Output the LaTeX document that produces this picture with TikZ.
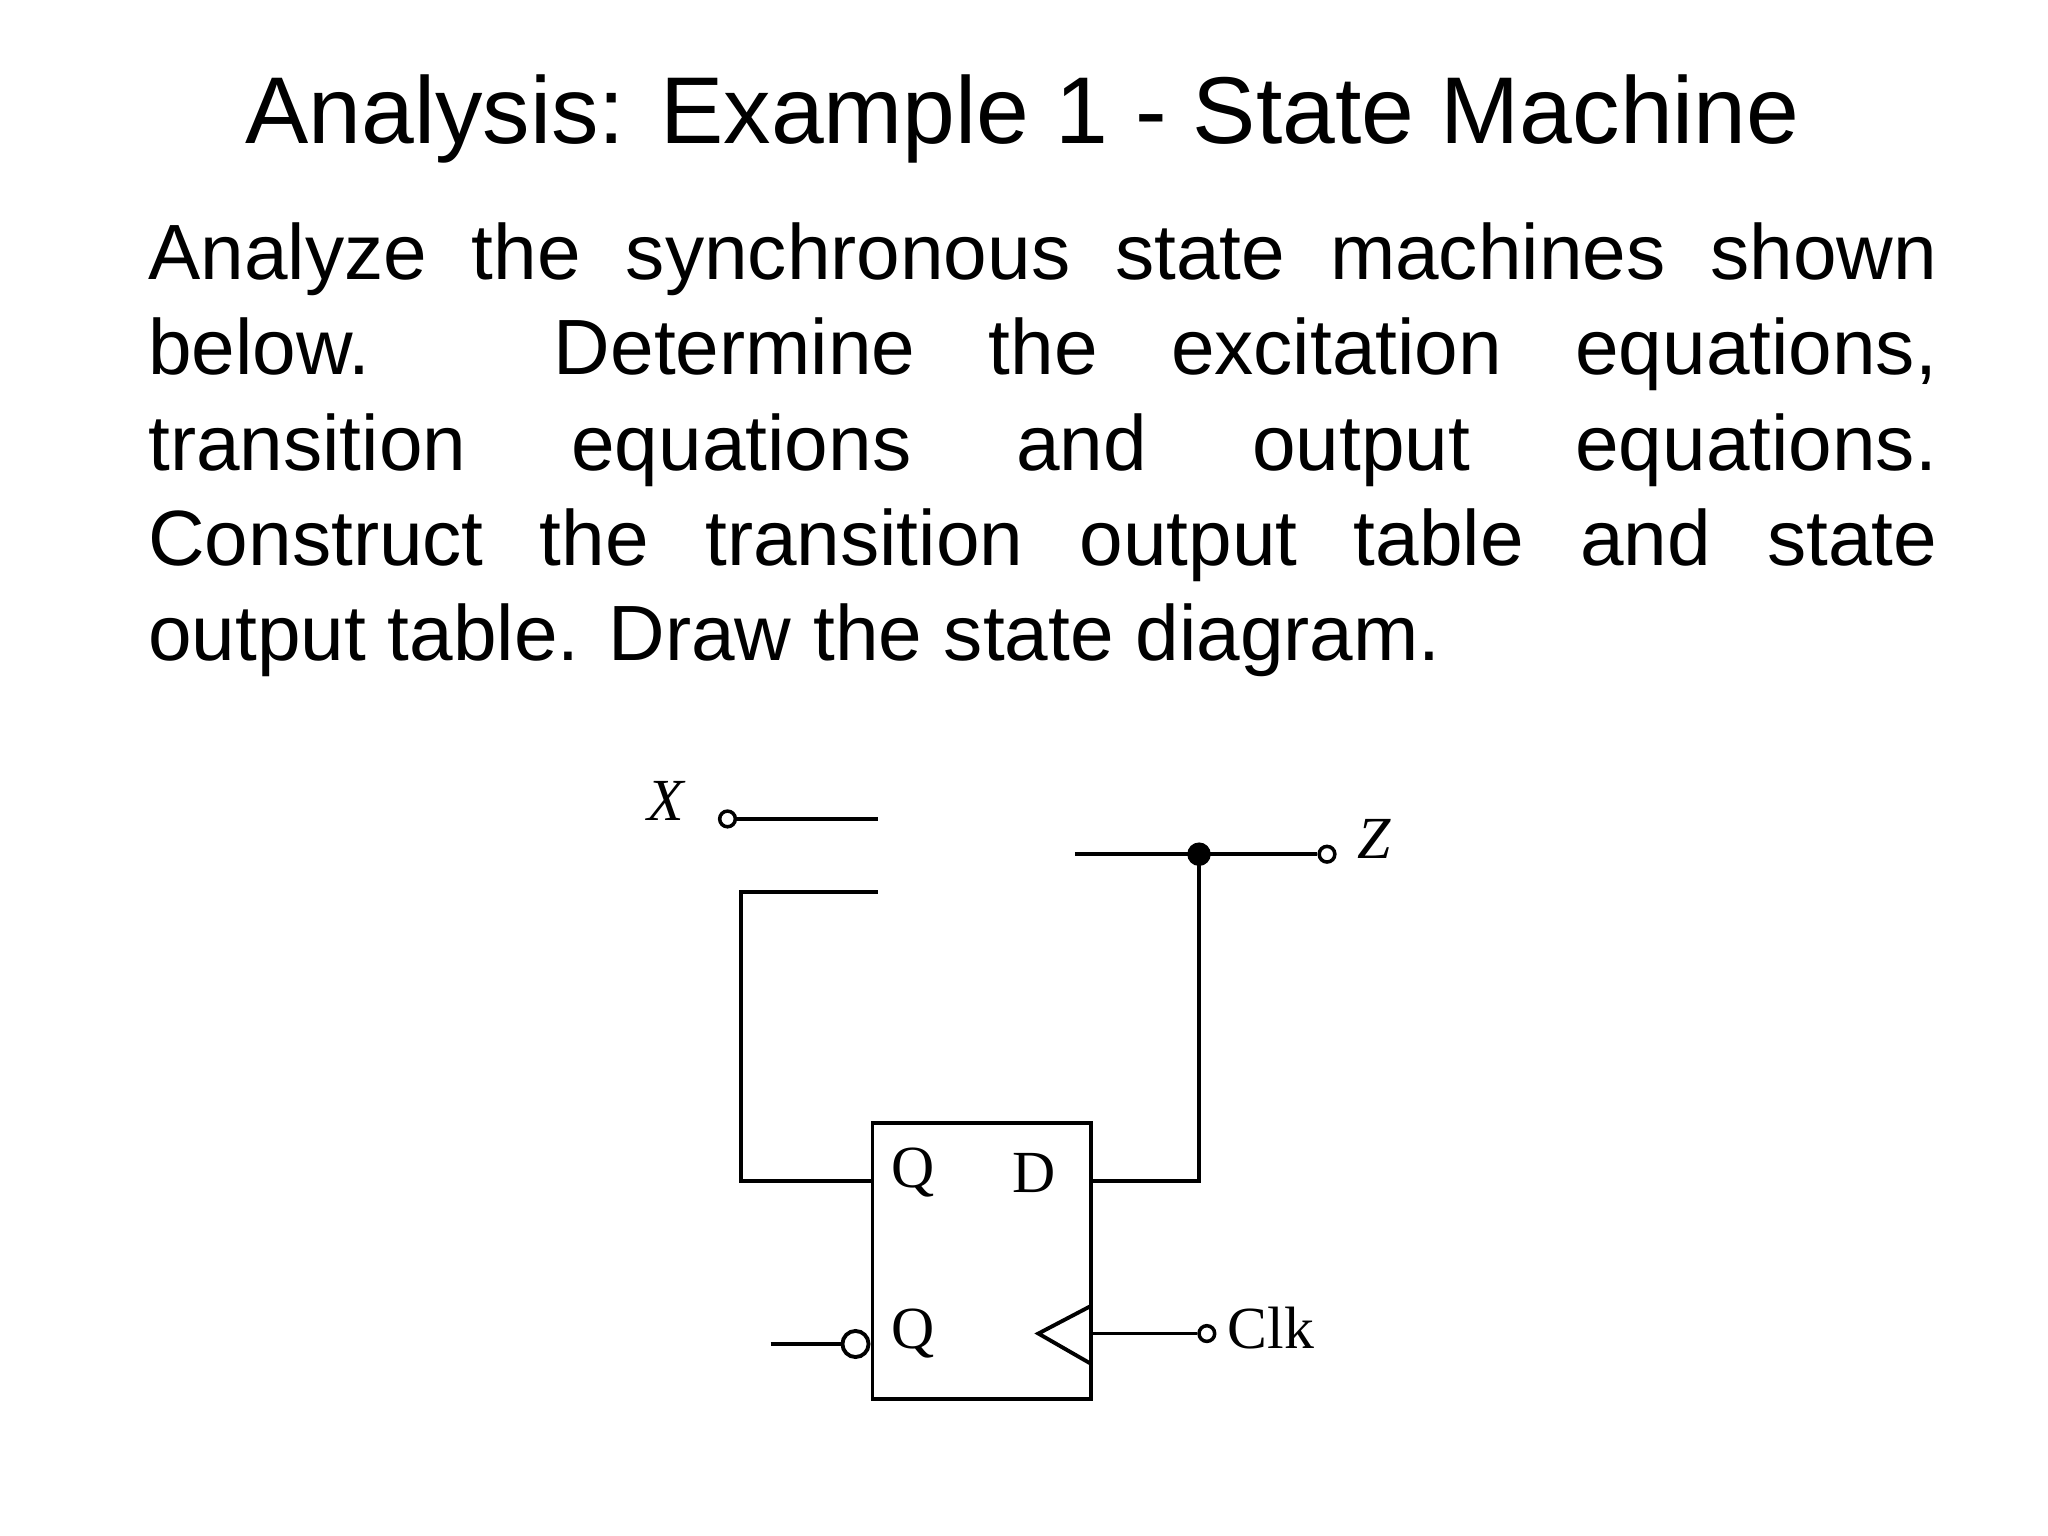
\documentclass[tikz,border=0pt]{standalone}
\usepackage{fontspec}
\setmainfont{Liberation Sans}
\newfontfamily\serifx{Liberation Serif}
\begin{document}
\begin{tikzpicture}[x=0.01306cm,y=-0.01306cm,
  wire/.style={line width=1.1pt},
  term/.style={circle,draw,line width=1pt,inner sep=0pt,minimum size=12*0.01306cm,fill=white},
  lbl/.style={font=\serifx\fontsize{17}{20}\selectfont,inner sep=0pt}]
\useasboundingbox (0,0) rectangle (1568,1176);
\node[anchor=base,inner sep=0pt,font=\fontsize{27}{32}\selectfont] (title) at (783,110) {Analysis: Example 1 - State Machine};
\node[anchor=north west,inner sep=0pt,font=\fontsize{22.3}{27.1}\selectfont] (para) at (113,170)
 {\parbox{509pt}{\hyphenpenalty=10000\exhyphenpenalty=10000
 Analyze the synchronous state machines shown\linebreak below. Determine the excitation equations,\linebreak transition equations and output equations.\linebreak Construct the transition output table and state\linebreak output table. Draw the state diagram.}};
% box
\draw[wire] (668,860) rectangle (835,1071);
\node[lbl] (q) at (699,898) {Q};
\node[lbl] (d) at (792,898) {D};
\node[lbl] (qn) at (699,1021) {Q};
% X
\node[lbl,font=\serifx\itshape\fontsize{17}{20}\selectfont] (xl) at (510,613) {X};
\node[term] (xt) at (557,627) {};
\coordinate (xe) at (672,627);
\draw[wire] (xt) -- (xe);
% feedback
\coordinate (f1) at (672,683);
\coordinate (f2) at (567,683);
\coordinate (f3) at (567,904);
\coordinate (f4) at (668,904);
\draw[wire] (f1) -- (f2) -- (f3) -- (f4);
% qbar
\node[circle,draw,line width=1.1pt,inner sep=0pt,minimum size=20*0.01306cm] (bub) at (655,1029) {};
\coordinate (qb0) at (590,1029);
\draw[wire] (qb0) -- (bub);
% D / Z
\coordinate (d1) at (835,904);
\coordinate (d2) at (918,904);
\coordinate (j) at (918,654);
\coordinate (z0) at (823,654);
\node[term] (zt) at (1016,654) {};
\node[lbl,font=\serifx\itshape\fontsize{17}{20}\selectfont] (zl) at (1052,642) {Z};
\draw[wire] (d1) -- (d2) -- (j);
\draw[wire] (z0) -- (zt);
\fill (j) circle[radius=9];
% clock
\coordinate (t1) at (835,1000);
\coordinate (t2) at (795,1021);
\coordinate (t3) at (835,1044);
\draw[wire,line join=miter] (t1) -- (t2) -- (t3);
\coordinate (c0) at (835,1021);
\node[term] (ct) at (924,1021) {};
\draw[wire] (c0) -- (ct);
\node[lbl] (clk) at (973,1017) {Clk};
\end{tikzpicture}
\end{document}
